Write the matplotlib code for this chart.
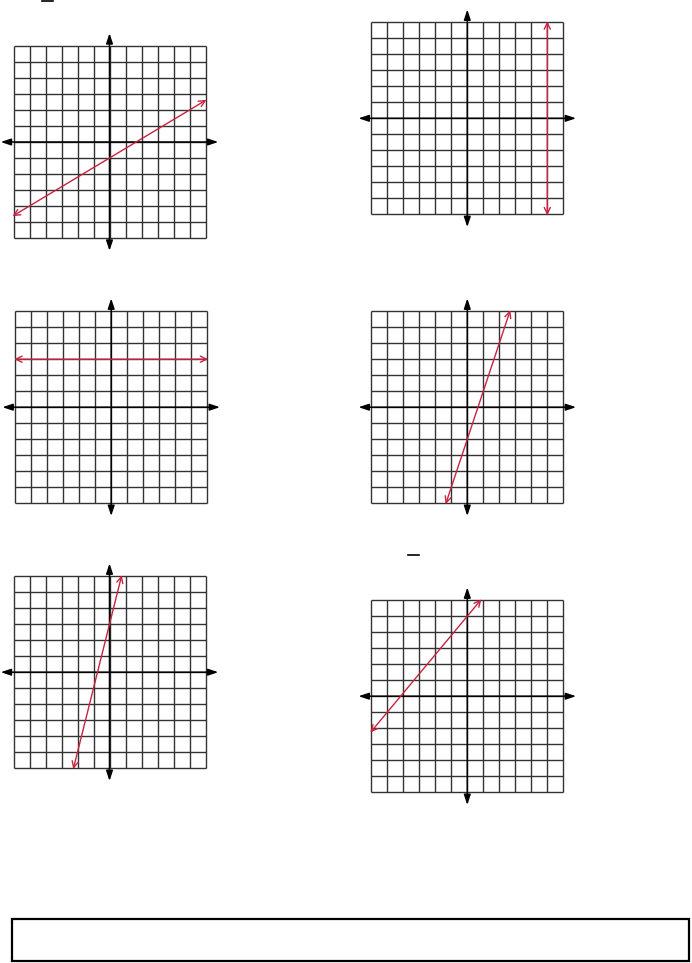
import numpy as np
import matplotlib
matplotlib.use("Agg")
import matplotlib.pyplot as plt
from matplotlib.patches import FancyArrowPatch, Rectangle
from matplotlib.lines import Line2D

# ---- data: six lines graphed on 12x12 coordinate grids ----
panel_names = ["a", "b", "c", "d", "e", "f"]
slopes = [0.6, None, 0.0, 3.0, 4.0, 1.2]      # None = vertical line
intercepts = [-1.0, 5.0, 3.0, -2.0, 3.0, 5.0]  # for vertical line: x = value
grid_ticks = list(range(-6, 7))

# ---- layout (pixels) ----
W, H = 692, 963
centers = [(109.5, 142.0), (467.3, 118.3),
           (111.2, 407.2), (467.3, 407.2),
           (109.5, 672.2), (467.3, 696.2)]
unit = 16.0
lim = 6.9
axis_tip = 6.8
line_lim = 6.06

fig = plt.figure(figsize=(W / 100, H / 100), dpi=100)
fig.patch.set_facecolor("white")

red = "#c8233f"

def segment(m, b, L):
    if m is None:
        return (b, -L), (b, L)
    if m == 0:
        return (-L, b), (L, b)
    xs = []
    for x in (-L, L):
        y = m * x + b
        if -L <= y <= L:
            xs.append(x)
    for y in (-L, L):
        x = (y - b) / m
        if -L <= x <= L:
            xs.append(x)
    xs = sorted(xs)
    x0, x1 = xs[0], xs[-1]
    return (x0, m * x0 + b), (x1, m * x1 + b)

for (cx, cy), m, b in zip(centers, slopes, intercepts):
    half = lim * unit
    ax = fig.add_axes([(cx - half) / W, 1 - (cy + half) / H, 2 * half / W, 2 * half / H])
    ax.set_xlim(-lim, lim)
    ax.set_ylim(-lim, lim)
    ax.axis("off")
    for v in grid_ticks:
        ax.plot([v, v], [-6, 6], color="#333333", lw=1.0, solid_capstyle="butt", zorder=1)
        ax.plot([-6, 6], [v, v], color="#333333", lw=1.0, solid_capstyle="butt", zorder=1)
    for p0, p1 in [((-axis_tip, 0), (axis_tip, 0)), ((0, -axis_tip), (0, axis_tip))]:
        ax.add_patch(FancyArrowPatch(p0, p1, arrowstyle="<|-|>,head_length=6,head_width=2.0",
                                     mutation_scale=1, shrinkA=0, shrinkB=0,
                                     color="black", lw=1.1, zorder=2, clip_on=False))
    p0, p1 = segment(m, b, line_lim)
    ax.add_patch(FancyArrowPatch(p0, p1, arrowstyle="<->,head_length=4.5,head_width=2.2",
                                 mutation_scale=1, shrinkA=0, shrinkB=0,
                                 color=red, lw=1.0, zorder=3, clip_on=False))

# fraction bars of (cropped) equation labels
for x0, x1, y in [(42, 53, 1.5), (408, 419, 555)]:
    fig.add_artist(Line2D([x0 / W, x1 / W], [1 - y / H, 1 - y / H],
                          color="black", lw=1.2, transform=fig.transFigure))

# answer box at the bottom
fig.add_artist(Rectangle((12 / W, 1 - 961 / H), (689 - 12) / W, (961 - 919) / H,
                         fill=False, edgecolor="black", lw=1.6,
                         transform=fig.transFigure))

fig.savefig("out.png", dpi=100, facecolor="white")
